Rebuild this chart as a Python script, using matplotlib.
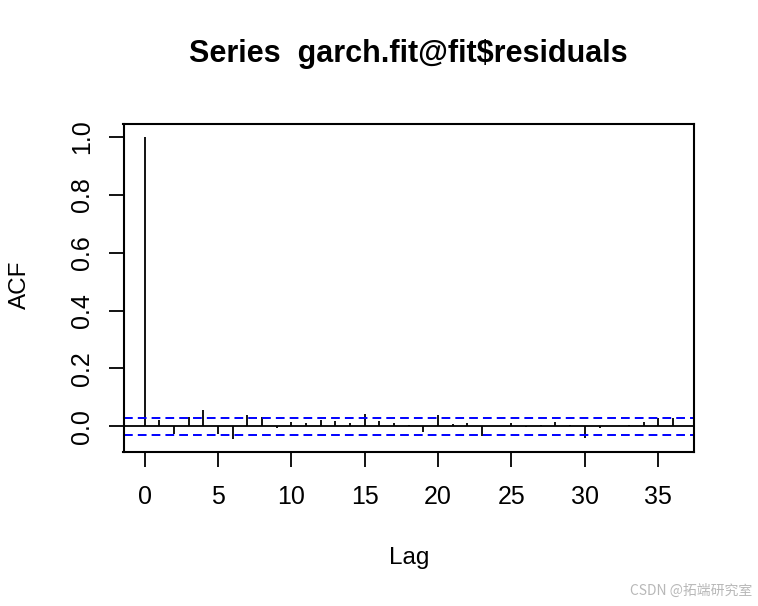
import matplotlib.pyplot as plt
import numpy as np

# ACF of GARCH residuals
lags = np.arange(0, 37)
acf_vals = [1.0, 0.022, -0.025, 0.032, 0.055, -0.025, -0.045, 0.038, 0.032, -0.005,
            0.016, 0.013, 0.023, 0.017, 0.013, 0.043, 0.017, 0.011, 0.005, -0.018,
            0.040, 0.008, 0.013, -0.035, 0.002, 0.010, -0.002, 0.005, 0.016, 0.005,
            -0.040, -0.005, 0.001, 0.005, 0.016, 0.030, 0.030]
conf = 0.030
x_ticks = [0, 5, 10, 15, 20, 25, 30, 35]
y_ticks = [0.0, 0.2, 0.4, 0.6, 0.8, 1.0]

plt.rcParams['font.family'] = ['Liberation Sans', 'DejaVu Sans']

W, H = 758, 606
fig = plt.figure(figsize=(W / 100, H / 100), dpi=100)
left, right, top, bottom = 123.5, 694, 123.5, 451.5
ax = fig.add_axes([left / W, 1 - bottom / H, (right - left) / W, (bottom - top) / H])

ax.vlines(lags, 0, acf_vals, color='black', lw=1.3)
ax.axhline(0, color='black', lw=1.3)
for c in (conf, -conf):
    ax.axhline(c, color='blue', lw=1.4, linestyle=(0, (4.5, 2.6)))

ax.set_xlim(-1.44, 37.44)
ax.set_ylim(-0.087, 1.046)
ax.set_xticks(x_ticks)
ax.set_yticks(y_ticks)
ax.set_yticklabels([f"{v:.1f}" for v in y_ticks], rotation=90, va='center')

for s in ax.spines.values():
    s.set_linewidth(1.5)
ax.tick_params(axis='both', length=10.8, width=1.3, labelsize=18, direction='out')
ax.tick_params(axis='x', pad=13.5)
ax.tick_params(axis='y', pad=10.5)

ax.set_xlabel("Lag", fontsize=17.5)
ax.set_ylabel("ACF", fontsize=17.5)
ax.xaxis.set_label_coords(0.5, (bottom - 558) / (bottom - top))
ax.xaxis.label.set_va('center')
ax.yaxis.set_label_coords((20 - left) / (right - left), (bottom - 285) / (bottom - top))
ax.yaxis.label.set_va('center')

ax.set_title("Series  garch.fit@fit$residuals", fontsize=22, fontweight='bold',
             y=1 + (top - 54) / (bottom - top), va='center', pad=0)

fig.text(752 / W, 1 - 591 / H, "CSDN @拓端研究室", ha='right', va='center',
         fontsize=10, color='#b8b8b8',
         family=['Noto Sans CJK SC', 'DejaVu Sans'])

fig.savefig("out.png", dpi=100)
